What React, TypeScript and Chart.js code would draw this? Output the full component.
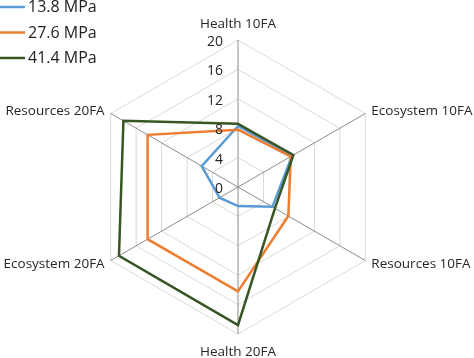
import React, { useEffect, useRef } from "react";
import { Chart, registerables } from "chart.js";

Chart.register(...registerables);

const categories = ["Health 10FA", "Ecosystem 10FA", "Resources 10FA", "Health 20FA", "Ecosystem 20FA", "Resources 20FA"];
const seriesNames = ["13.8 MPa", "27.6 MPa", "41.4 MPa"];
const values138 = [8.3, 8.5, 5.4, 2.6, 2.9, 5.7];
const values276 = [7.8, 8.3, 7.9, 14.2, 14.2, 14.2];
const values414 = [8.6, 8.7, 5.8, 18.8, 18.7, 18.0];
const tickValues = [0, 4, 8, 12, 16, 20];
const colors = ["#5B9BD5", "#ED7D31", "#375623"];

const FONT = "'Open Sans', 'Noto Sans', sans-serif";

const labelPlugin = {
  id: "customLabels",
  afterDraw(chart: any) {
    const ctx = chart.ctx;
    const r = chart.scales.r;
    const da = r.drawingArea;
    ctx.save();
    // tick labels
    ctx.fillStyle = "#262626";
    ctx.font = `14px ${FONT}`;
    ctx.textAlign = "right";
    ctx.textBaseline = "middle";
    tickValues.forEach((v) => {
      const d = r.getDistanceFromCenterForValue(v);
      ctx.fillText(String(v), r.xCenter - 15, r.yCenter - d + 2);
    });
    // point labels
    ctx.font = `13.5px ${FONT}`;
    categories.forEach((lab, i) => {
      let align: CanvasTextAlign = "center";
      let extra = 7;
      if (i === 0) { extra = 16; }
      else if (i === 3) { extra = 18; }
      else if (i === 1 || i === 2) { align = "left"; }
      else { align = "right"; }
      const p = r.getPointPosition(i, da + extra);
      ctx.textAlign = align;
      ctx.fillText(lab, p.x, p.y + (i === 1 || i === 5 ? 1 : 0));
    });
    // legend
    ctx.font = `16px ${FONT}`;
    ctx.textAlign = "left";
    seriesNames.forEach((name, i) => {
      const y = 7 + i * 25.5;
      ctx.strokeStyle = colors[i];
      ctx.lineWidth = 2.5;
      ctx.beginPath();
      ctx.moveTo(0, y);
      ctx.lineTo(25, y);
      ctx.stroke();
      ctx.fillStyle = "#222222";
      ctx.fillText(name, 28, y + 0.5);
    });
    ctx.restore();
  },
};

export default function App() {
  const ref = useRef<HTMLCanvasElement>(null);
  useEffect(() => {
    const seriesData = [values138, values276, values414];
    const chart = new Chart(ref.current as HTMLCanvasElement, {
      type: "radar",
      data: {
        labels: categories,
        datasets: seriesData.map((d, i) => ({
          label: seriesNames[i],
          data: d,
          borderColor: colors[i],
          backgroundColor: "transparent",
          borderWidth: 2.5,
          pointRadius: 0,
          fill: false,
          order: 3 - i,
        })),
      },
      options: {
        responsive: false,
        animation: false,
        devicePixelRatio: 1,
        layout: { padding: { left: 91, top: 40, right: 89, bottom: 24 } },
        plugins: { legend: { display: false }, tooltip: { enabled: false } },
        scales: {
          r: {
            min: 0,
            max: 20,
            ticks: { display: false, stepSize: 4 },
            pointLabels: { display: false },
            grid: { color: "#d9d9d9", lineWidth: 1 },
            angleLines: { color: "#8c8c8c", lineWidth: 1 },
          },
        },
      },
      plugins: [labelPlugin],
    });
    return () => chart.destroy();
  }, []);
  return (
    <div style={{ position: "absolute", left: 0, top: 0, width: 474, height: 358, background: "#fff" }}>
      <canvas ref={ref} width={474} height={358} />
    </div>
  );
}
